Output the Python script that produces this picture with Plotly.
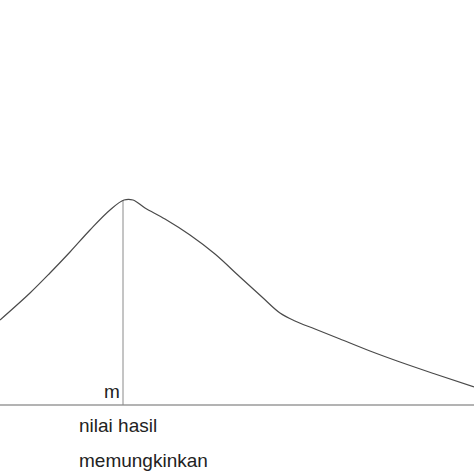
import plotly.graph_objects as go

# Curve values (x position, height above baseline)
curve_x = [0, 30, 50, 70, 90, 110, 124, 133, 145, 165, 190, 215, 240, 262, 280, 295, 315, 340, 370, 400, 435, 474]
curve_y = [85, 112, 132, 153, 175, 195, 205, 205, 197, 186, 170, 151, 128, 108, 92, 84, 76, 66, 54, 43, 31, 18]

mode_x = 123
mode_height = 205
axis_x = [0, 474]
label_mode = "m"
label_axis = ["nilai hasil", "memungkinkan"]

fig = go.Figure()
fig.add_trace(go.Scatter(x=axis_x, y=[0, 0], mode="lines",
                         line=dict(color="#9a9a9a", width=1.5), hoverinfo="skip"))
fig.add_trace(go.Scatter(x=[mode_x, mode_x], y=[0, mode_height], mode="lines",
                         line=dict(color="#8a8a8a", width=1), hoverinfo="skip"))
fig.add_trace(go.Scatter(x=curve_x, y=curve_y, mode="lines",
                         line=dict(color="#4a4a4a", width=1.2, shape="spline", smoothing=1.0),
                         hoverinfo="skip"))

font = dict(family="Liberation Sans, Arial, sans-serif", size=19, color="#222")
fig.add_annotation(x=mode_x - 1, y=14, text=label_mode, showarrow=False,
                   xanchor="right", yanchor="middle", font=font)
fig.add_annotation(x=77, y=-20, text=label_axis[0], showarrow=False,
                   xanchor="left", yanchor="middle", font=font)
fig.add_annotation(x=77, y=-55, text=label_axis[1], showarrow=False,
                   xanchor="left", yanchor="middle", font=font)

fig.update_layout(
    width=474, height=474, margin=dict(l=0, r=0, t=0, b=0),
    paper_bgcolor="white", plot_bgcolor="white", showlegend=False,
    xaxis=dict(range=[0, 474], visible=False, fixedrange=True),
    yaxis=dict(range=[-69, 405], visible=False, fixedrange=True),
)
fig.write_html("out.html", config={"displayModeBar": False},
               post_script="document.body.style.margin='0';document.body.style.padding='0';")
